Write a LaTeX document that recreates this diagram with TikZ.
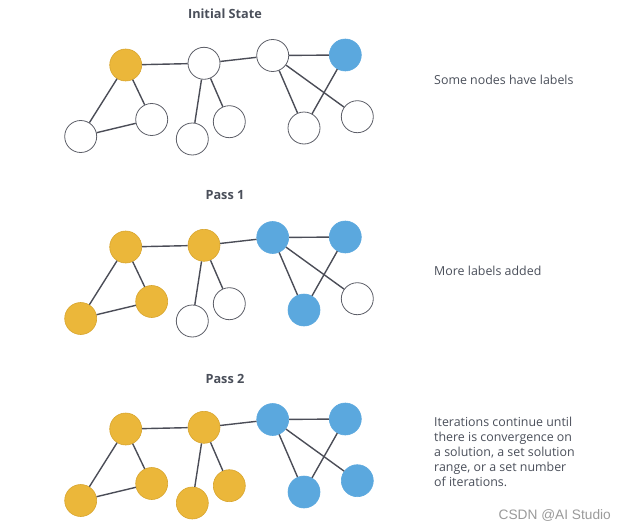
\documentclass[tikz,border=0pt]{standalone}
\usepackage{fontspec}
\setmainfont{Open Sans}
\newfontfamily\wmfont{Liberation Sans}
\definecolor{nyel}{HTML}{EBB73A}
\definecolor{nyelb}{HTML}{D8A52E}
\definecolor{nblu}{HTML}{5BA8DE}
\definecolor{nedge}{HTML}{4B4D57}
\definecolor{ntxt}{HTML}{4A4F5A}
\definecolor{nwm}{HTML}{9A9A9A}
\tikzset{
  gnode/.style={circle,minimum size=32pt,inner sep=0pt},
  Y/.style={gnode,fill=nyel,draw=nyelb,line width=0.6pt},
  B/.style={gnode,fill=nblu,draw=nblu,line width=0.6pt},
  W/.style={gnode,fill=white,draw=nedge!90,line width=0.8pt},
  link/.style={draw=nedge,line width=1.4pt},
  title/.style={font=\bfseries\fontsize{12.7}{15}\selectfont,text=ntxt,inner sep=0pt},
  note/.style={font=\fontsize{12.4}{15}\selectfont,text=ntxt,inner sep=0pt,align=left},
}
\begin{document}
\begin{tikzpicture}[x=1pt,y=-1pt]
\path[use as bounding box] (0,0) rectangle (626,530);
\foreach \p/\oy/\sa/\sb/\sc/\sd/\se/\sf/\sg/\sh/\si/\sj in
  {0/0/Y/W/W/B/W/W/W/W/W/W,
   1/182/Y/Y/B/B/Y/Y/W/W/B/W,
   2/364/Y/Y/B/B/Y/Y/Y/Y/B/B}{
  \node[style=\sa] (a\p) at (125.7,65+\oy) {};
  \node[style=\sb] (b\p) at (204,63.3+\oy) {};
  \node[style=\sc] (c\p) at (272.7,55.5+\oy) {};
  \node[style=\sd] (d\p) at (345.3,55+\oy) {};
  \node[style=\se] (e\p) at (80.7,136.5+\oy) {};
  \node[style=\sf] (f\p) at (151.7,119.5+\oy) {};
  \node[style=\sg] (g\p) at (192.3,139+\oy) {};
  \node[style=\sh] (h\p) at (229.3,121.7+\oy) {};
  \node[style=\si] (i\p) at (304,128+\oy) {};
  \node[style=\sj] (j\p) at (357.3,116.7+\oy) {};
  \draw[link] (a\p) -- (b\p);
  \draw[link] (b\p) -- (c\p);
  \draw[link] (c\p) -- (d\p);
  \draw[link] (a\p) -- (e\p);
  \draw[link] (a\p) -- (f\p);
  \draw[link] (e\p) -- (f\p);
  \draw[link] (b\p) -- (g\p);
  \draw[link] (b\p) -- (h\p);
  \draw[link] (c\p) -- (i\p);
  \draw[link] (c\p) -- (j\p);
  \draw[link] (d\p) -- (i\p);
}
\node[title] (t0) at (225,14) {Initial State};
\node[title] (t1) at (225,195.5) {Pass 1};
\node[title] (t2) at (225,379) {Pass 2};
\node[note,anchor=west] (n0) at (434,80) {Some nodes have labels};
\node[note,anchor=west] (n1) at (434,271) {More labels added};
\node[note,anchor=north west] (n2) at (434,416.5) {Iterations continue until\\there is convergence on\\a solution, a set solution\\range, or a set number\\of iterations.};
\node[font=\wmfont\fontsize{13.7}{15}\selectfont,text=nwm,inner sep=0pt,anchor=east] (wm) at (611,515) {CSDN @AI Studio};
\end{tikzpicture}
\end{document}
